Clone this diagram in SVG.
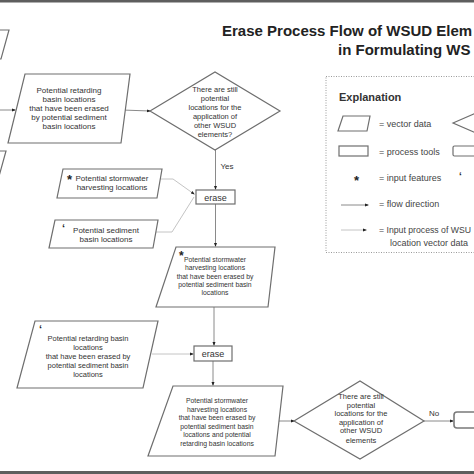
<svg xmlns="http://www.w3.org/2000/svg" width="474" height="474" viewBox="0 0 474 474">
<style>
.sh{fill:#fff;stroke:#6e6e6e;stroke-width:1.2}
.t{font-family:"Liberation Sans",Arial,sans-serif;fill:#333;text-anchor:middle}
.lg{font-family:"Liberation Sans",Arial,sans-serif;fill:#444;font-size:9px}
.mk{font-family:"Liberation Sans",Arial,sans-serif;fill:#222;font-weight:bold}
.flow{fill:none;stroke:#8a8a8a;stroke-width:1}
.inp{fill:none;stroke:#c4c4c4;stroke-width:1}
</style>
<defs>
<marker id="dot" viewBox="0 0 4 4" refX="3" refY="2" markerWidth="4" markerHeight="4" markerUnits="userSpaceOnUse" orient="auto">
<path d="M0,0.5 L4,2 L0,3.5 Z" fill="#222"/>
</marker>
</defs>
<rect width="474" height="474" fill="#fff"/>
<rect x="0" y="0" width="474" height="2.5" fill="#5e5e5e"/>
<rect x="0" y="471" width="474" height="3" fill="#5e5e5e"/>

<g id="title" font-family="Liberation Sans,Arial,sans-serif" font-weight="bold" font-size="15" fill="#222">
<text x="222" y="36">Erase Process Flow of WSUD Elem</text>
<text x="338" y="55">in Formulating WS</text>
</g>

<g id="connectors">
<line class="flow" x1="0" y1="110" x2="15" y2="110" marker-end="url(#dot)"/>
<line class="flow" x1="122" y1="110" x2="150" y2="111" marker-end="url(#dot)"/>
<line class="flow" x1="215.5" y1="150" x2="215.5" y2="189" marker-end="url(#dot)"/>
<polyline class="inp" points="160,179 173,179 194,194" marker-end="url(#dot)"/>
<polyline class="inp" points="154,232 172,232 194,197"/>
<line class="flow" x1="215.5" y1="204" x2="215.5" y2="246" marker-end="url(#dot)"/>
<line class="flow" x1="214" y1="307" x2="214" y2="345" marker-end="url(#dot)"/>
<line class="inp" x1="152" y1="354" x2="193" y2="354" marker-end="url(#dot)"/>
<line class="flow" x1="213" y1="361" x2="213" y2="385" marker-end="url(#dot)"/>
<line class="flow" x1="278" y1="421" x2="294" y2="421" marker-end="url(#dot)"/>
<line class="flow" x1="424" y1="421" x2="453" y2="421" marker-end="url(#dot)"/>
<text class="t" x="227" y="169" font-size="8">Yes</text>
<text class="t" x="434" y="416" font-size="8">No</text>
</g>

<g id="partial-top-left"><polygon class="sh" points="-20,30 9,30 1,59 -28,59"/></g>
<g id="partial-bottom-left"><polygon class="sh" points="-20,151 6,151 -2,180 -28,180"/></g>

<g id="retard-erased">
<polygon class="sh" points="25,74 130,74 121,143 8,143"/>
<text class="t" font-size="8"><tspan x="69" y="93">Potential retarding</tspan><tspan x="69" y="102">basin locations</tspan><tspan x="69" y="111">that have been erased</tspan><tspan x="69" y="120">by potential sediment</tspan><tspan x="69" y="129">basin locations</tspan></text>
</g>

<g id="decision1">
<polygon class="sh" points="150,111 215,72 280,111 215,150"/>
<text class="t" font-size="7.5"><tspan x="215" y="92">There are still</tspan><tspan x="215" y="101">potential</tspan><tspan x="215" y="110">locations for the</tspan><tspan x="215" y="119">application of</tspan><tspan x="215" y="128">other WSUD</tspan><tspan x="215" y="137">elements?</tspan></text>
</g>

<g id="stormwater">
<polygon class="sh" points="63,169 162,169 157,198 57,198"/>
<text class="mk" x="67" y="184" font-size="13">*</text>
<text class="t" font-size="8"><tspan x="112" y="181">Potential stormwater</tspan><tspan x="112" y="190">harvesting locations</tspan></text>
</g>

<g id="sediment">
<polygon class="sh" points="55,220 158,220 153,248 49,248"/>
<text class="mk" x="62" y="232" font-size="11">ʻ</text>
<text class="t" font-size="8"><tspan x="106" y="233">Potential sediment</tspan><tspan x="106" y="242">basin locations</tspan></text>
</g>

<g id="erase1">
<rect class="sh" x="196" y="190" width="39" height="14"/>
<text class="t" x="215.5" y="200.5" font-size="9">erase</text>
</g>

<g id="stormwater-erased">
<polygon class="sh" points="176,247 275,247 268,307 156,307"/>
<text class="mk" x="179" y="260" font-size="12">*</text>
<text class="t" font-size="6.8"><tspan x="215" y="262">Potential stormwater</tspan><tspan x="215" y="270">harvesting locations</tspan><tspan x="215" y="278.5">that have been erased by</tspan><tspan x="215" y="287">potential sediment basin</tspan><tspan x="215" y="295">locations</tspan></text>
</g>

<g id="retard-input">
<polygon class="sh" points="35,321 158,321 143,388 17,388"/>
<text class="mk" x="39" y="333" font-size="11">ʻ</text>
<text class="t" font-size="7.5"><tspan x="88" y="341">Potential retarding basin</tspan><tspan x="88" y="350">locations</tspan><tspan x="88" y="359">that have been erased by</tspan><tspan x="88" y="368">potential sediment basin</tspan><tspan x="88" y="377">locations</tspan></text>
</g>

<g id="erase2">
<rect class="sh" x="194" y="346" width="38" height="15"/>
<text class="t" x="213" y="357" font-size="9">erase</text>
</g>

<g id="final-erased">
<polygon class="sh" points="173,386 283,386 275,456 148,456"/>
<text class="t" font-size="6.8"><tspan x="217" y="403">Potential stormwater</tspan><tspan x="217" y="411.5">harvesting locations</tspan><tspan x="217" y="420">that have been erased by</tspan><tspan x="217" y="428.5">potential sediment basin</tspan><tspan x="217" y="437">locations and potential</tspan><tspan x="217" y="445.5">retarding basin locations</tspan></text>
</g>

<g id="decision2">
<polygon class="sh" points="294,421 360,381 424,421 360,459"/>
<text class="t" font-size="7.5"><tspan x="361" y="399">There are still</tspan><tspan x="361" y="407.5">potential</tspan><tspan x="361" y="416">locations for the</tspan><tspan x="361" y="424.5">application of</tspan><tspan x="361" y="433">other WSUD</tspan><tspan x="361" y="443">elements</tspan></text>
</g>

<g id="end-node">
<rect x="454" y="412" width="40" height="16" rx="3" fill="#fff" stroke="#7a7a7a" stroke-width="1.6"/>
</g>

<g id="legend">
<rect x="326" y="76.5" width="170" height="176" fill="none" stroke="#9a9a9a" stroke-width="1" stroke-dasharray="1,1.5"/>
<text x="339" y="101" font-family="Liberation Sans,Arial,sans-serif" font-weight="bold" font-size="11" fill="#333">Explanation</text>
<polygon class="sh" points="343,116 370,116 367,131 338,131"/>
<text class="lg" x="379" y="127">= vector data</text>
<polygon class="sh" points="453,123 476,113 499,123 476,133"/>
<rect class="sh" x="339" y="146" width="29" height="10"/>
<text class="lg" x="379" y="155">= process tools</text>
<rect class="sh" x="453" y="146" width="30" height="10" rx="1.5"/>
<text class="mk" x="354" y="185" font-size="13">*</text>
<text class="lg" x="379" y="181">= input features</text>
<text class="mk" x="459" y="180" font-size="10">ʻ</text>
<line class="flow" x1="341" y1="205" x2="368" y2="205" marker-end="url(#dot)"/>
<text class="lg" x="379" y="207">= flow direction</text>
<line class="inp" x1="341" y1="230" x2="366" y2="230" marker-end="url(#dot)"/>
<text class="lg" x="379" y="233" textLength="92" lengthAdjust="spacingAndGlyphs">= Input process of WSU</text>
<text class="lg" x="390" y="246">location vector data</text>
</g>
</svg>
